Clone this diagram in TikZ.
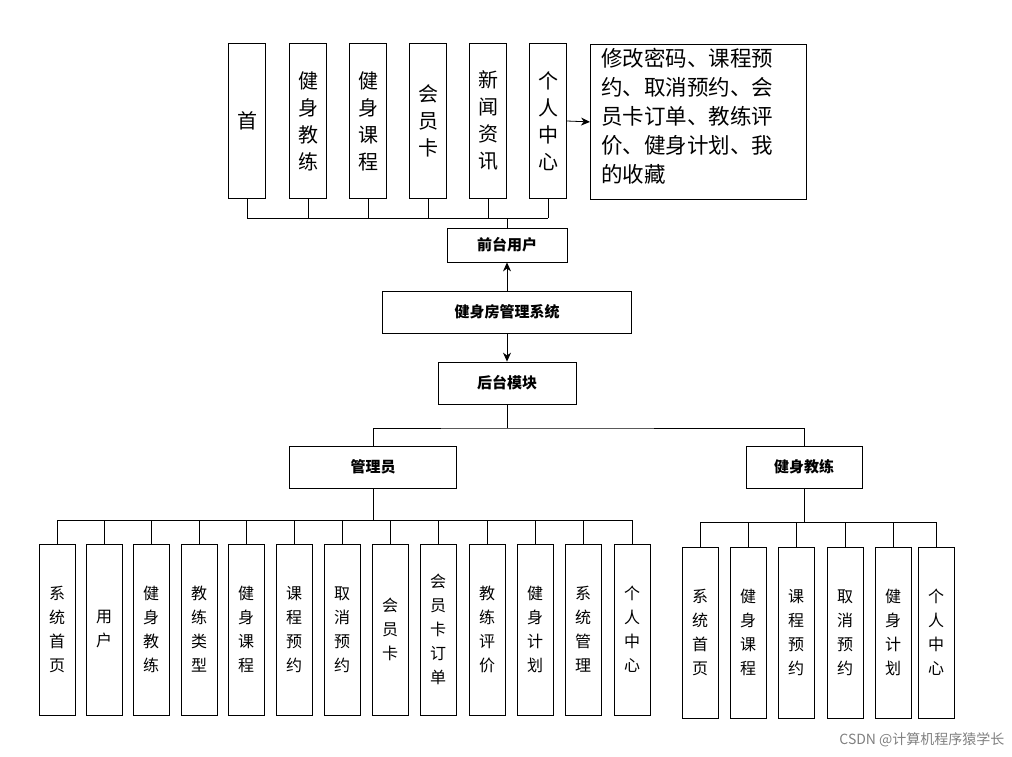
\documentclass[tikz,border=0pt]{standalone}
\usepackage{fontspec}
\newfontfamily\cjk{Noto Sans CJK SC}
\usetikzlibrary{arrows.meta}
\begin{document}
\begin{tikzpicture}[x=1pt,y=-1pt,
 tb/.style={draw,thick,minimum width=37pt,minimum height=155pt,inner sep=0pt,align=center,font=\cjk\fontsize{20}{27}\selectfont},
 bb/.style={draw,thick,minimum width=36pt,minimum height=171pt,inner sep=0pt,align=center,font=\cjk\fontsize{16}{24}\selectfont},
 mb/.style={draw,thick,minimum height=42pt,inner sep=0pt,font=\cjk\bfseries\fontsize{15}{18}\selectfont},
 ln/.style={thick},
 ar/.style={thick,-{Stealth[length=9pt,width=8pt]}}]
\useasboundingbox (0,0) rectangle (1012,756);
% top
\node[tb] (t1) at (247,121) {首};
\node[tb] (t2) at (308,121) {健\\身\\教\\练};
\node[tb] (t3) at (368,121) {健\\身\\课\\程};
\node[tb] (t4) at (428,121) {会\\员\\卡};
\node[tb] (t5) at (488,121) {新\\闻\\资\\讯};
\node[tb] (t6) at (548,121) {个\\人\\中\\心};
\node[draw,thick,minimum width=216pt,minimum height=155pt,inner sep=0pt,anchor=north west] (tb7) at (590,44) {};
\node[anchor=north west,inner sep=0pt,align=left,font=\cjk\fontsize{21.5}{29}\selectfont] (tx7) at (601,48) {修改密码、课程预\\约、取消预约、会\\员卡订单、教练评\\价、健身计划、我\\的收藏};
\draw[ar] (t6.east) -- (tb7.west);
\node[mb,minimum width=120pt,minimum height=34pt] (qt) at (507,245) {前台用户};
\node[mb,minimum width=249pt] (sys) at (507,312) {健身房管理系统};
\node[mb,minimum width=138pt] (ht) at (507,383) {后台模块};
\coordinate (qb) at (507,218);
\foreach \n in {t1,t2,t3,t4,t5,t6} \draw[ln] (\n.south) -- (\n.south |- qb);
\draw[ln] (t1.south |- qb) -- (t6.south |- qb);
\draw[ln] (qb) -- (qt.north);
\draw[ar] (sys.north) -- (qt.south);
\draw[ar] (sys.south) -- (ht.north);
\node[mb,minimum width=167pt] (gl) at (373,467) {管理员};
\node[mb,minimum width=116pt] (js) at (804,467) {健身教练};
\coordinate (hb) at (507,428);
\draw[ln] (ht.south) -- (hb);
\draw[ln] (gl.north) |- (hb) -| (js.north);
% admin
\foreach \x/\t [count=\i] in {57/系\\统\\首\\页,104/用\\户,151/健\\身\\教\\练,199/教\\练\\类\\型,246/健\\身\\课\\程,294/课\\程\\预\\约,342/取\\消\\预\\约,390/会\\员\\卡,438/会\\员\\卡\\订\\单,487/教\\练\\评\\价,535/健\\身\\计\\划,583/系\\统\\管\\理,632/个\\人\\中\\心}
 {\node[bb] (a\i) at (\x,629.5) {\t};
  \draw[ln] (a\i.north) -- (\x,520);}
\draw[ln] (57,520) -- (632,520);
\draw[ln] (gl.south) -- (373,520);
% coach
\foreach \x/\t [count=\i] in {700/系\\统\\首\\页,748/健\\身\\课\\程,796/课\\程\\预\\约,845/取\\消\\预\\约,893/健\\身\\计\\划,936/个\\人\\中\\心}
 {\node[bb] (c\i) at (\x,632.5) {\t};
  \draw[ln] (c\i.north) -- (\x,522);}
\draw[ln] (700,522) -- (936,522);
\draw[ln] (js.south) -- (804,522);
\node[anchor=east,text=gray,font=\cjk\fontsize{14}{16}\selectfont] (wm) at (1008,740) {CSDN @计算机程序猿学长};
\end{tikzpicture}
\end{document}
